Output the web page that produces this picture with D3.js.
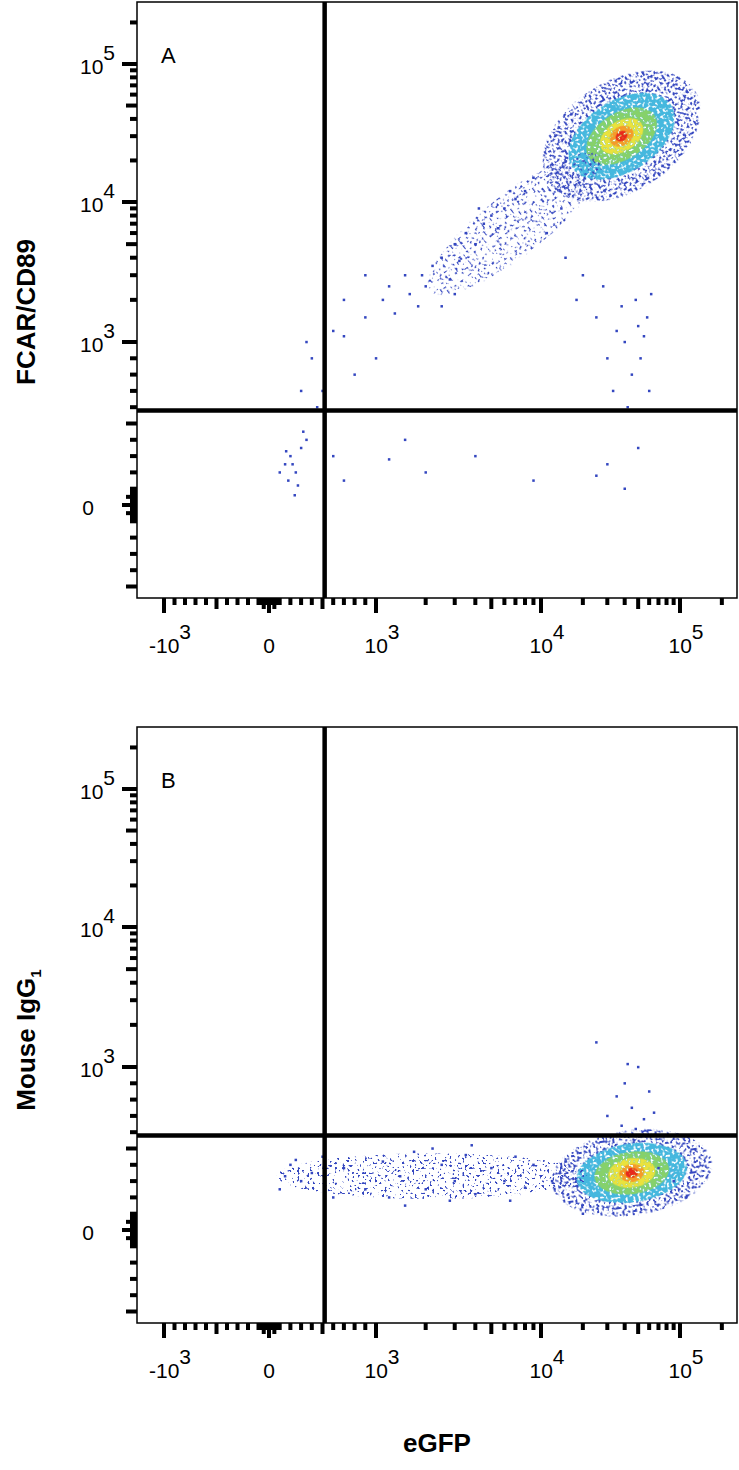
<!DOCTYPE html>
<html><head><meta charset="utf-8">
<script src="https://cdn.jsdelivr.net/npm/d3@7"></script>
<style>body{margin:0;background:#fff}svg{display:block}text{font-family:"Liberation Sans",Arial,sans-serif}</style>
</head><body>
<script>
// ---- data ----
const majorTicks = [-1000, 0, 1000, 10000, 100000];
const xTickLabels = [["-10","3"],["0",""],["10","3"],["10","4"],["10","5"]];
const yTickValues = [0, 1000, 10000, 100000];
const yTickLabels = [["0",""],["10","3"],["10","4"],["10","5"]];
const gateX = 520, gateY = 580;
const levelColors = ["#3447c0","#44b8de","#86d16a","#eae23c","#f59a2a","#e62a1e"];
// blobs: centre [x,y] in data units, radii per level in transformed (decade) units, rotation deg
const blobsA = [
 {c:[38000,30000], rot:-32, r:[[0.62,0.40],[0.42,0.26],[0.28,0.17],[0.17,0.11],[0.09,0.07],[0.045,0.035]]},
 {c:[7000,7000], rot:-38, r:[[0.75,0.22]]}
];
const blobsB = [
 {c:[45000,350], rot:-8, r:[[0.58,0.26],[0.40,0.18],[0.27,0.13],[0.17,0.09],[0.09,0.055],[0.045,0.03]]},
 {c:[2200,330], rot:0, r:[[1.0,0.14]]}
];
const pointsA = [[600,1200],[700,2000],[900,1500],[1200,2500],[1500,3000],[2000,2500],[2500,4000],[3000,5000],[3500,6000],[4000,5000],[5000,8000],[6000,9000],[7000,10500],[8000,12000],[1000,900],[800,800],[1800,1800],[2200,3500],[2800,2800],[4500,7000],[5500,6500],[6500,12000],[9000,15000],[3200,3800],[1300,1600],[1600,2200],[700,1100],[500,700],[400,900],[300,700],[350,1000],[450,600],[900,3000],[1100,2000],[2500,1800],[1900,3000],[4200,9000],[3000,2200],[11000,6000],[14000,9000],[150,250],[200,300],[250,200],[180,150],[300,350],[350,400],[220,250],[100,200],[270,120],[320,450],[160,330],[240,60],[700,150],[1200,280],[2000,200],[4000,300],[9000,150],[30000,250],[40000,100],[25000,180],[50000,350],[1500,400],[600,300],[30000,900],[40000,1000],[50000,1300],[45000,800],[35000,1200],[55000,1100],[60000,700],[42000,600],[25000,1500],[38000,1800],[48000,2000],[52000,900],[33000,700],[58000,1500],[28000,2500],[62000,2200],[20000,3000],[18000,2000],[15000,4000]];
const pointsB = [[100,250],[150,330],[200,400],[300,300],[500,450],[700,380],[900,250],[1100,420],[1400,330],[1700,480],[2000,250],[2500,400],[3000,300],[3500,460],[4000,220],[5000,380],[6000,300],[7000,450],[8000,260],[9000,400],[1200,200],[2200,500],[2800,180],[600,200],[400,350],[250,430],[1500,150],[3800,520],[6500,180],[30000,700],[35000,820],[40000,900],[45000,750],[50000,1000],[55000,680],[60000,850],[38000,640],[25000,1500],[48000,620],[42000,1050],[65000,720],[70000,380],[90000,300],[110000,200],[20000,100],[15000,420],[12000,300]];

// ---- transforms ----
const tf = v => v <= 1000 ? 2 + v/1000 : Math.log10(v);
const W = 739, H = 1470;
const svg = d3.select("body").append("svg").attr("width",W).attr("height",H);
const defs = svg.append("defs");
function grain(id, freq, k, b){
  const f = defs.append("filter").attr("id",id).attr("x","-20%").attr("y","-20%").attr("width","140%").attr("height","140%");
  f.append("feTurbulence").attr("type","fractalNoise").attr("baseFrequency",freq).attr("numOctaves",1).attr("seed",3).attr("result","n");
  f.append("feColorMatrix").attr("in","n").attr("type","matrix").attr("values",`0 0 0 0 0 0 0 0 0 0 0 0 0 0 0 ${k} 0 0 0 ${b}`).attr("result","m");
  f.append("feComposite").attr("in","SourceGraphic").attr("in2","m").attr("operator","in");
}
grain("dense",0.4,14,-5.2);
grain("sparse",0.4,14,-7.4);
grain("vsparse",0.4,14,-8.4);

function panel(top, blobs, pts, letter){
  const L=137, R=737, T=top, B=top+596;
  const x = d3.scaleLinear().domain(majorTicks.map(tf)).range([164,269,376,541,680]);
  const y = d3.scaleLinear().domain(yTickValues.map(tf)).range([503,340,200,62].map(d=>d+top));
  const g = svg.append("g");
  const clip = "c"+letter;
  defs.append("clipPath").attr("id",clip).append("rect").attr("x",L).attr("y",T).attr("width",R-L).attr("height",B-T);
  const pg = g.append("g").attr("clip-path",`url(#${clip})`);
  blobs.forEach((bl,bi)=>{
    const cx = x(tf(bl.c[0])), cy = y(tf(bl.c[1]));
    const t0x=tf(bl.c[0]), t0y=tf(bl.c[1]);
    bl.r.forEach((r,i)=>{
      const rx = x(t0x+r[0])-cx, ry = cy - y(t0y+r[1]);
      pg.append("ellipse").attr("cx",cx).attr("cy",cy).attr("rx",rx).attr("ry",ry)
        .attr("transform",`rotate(${bl.rot},${cx},${cy})`)
        .attr("fill",levelColors[i])
        .attr("filter", bl.r.length===1 ? "url(#vsparse)" : (i===0?"url(#sparse)":"url(#dense)"));
    });
  });
  pg.selectAll("rect.p").data(pts).join("rect").attr("class","p")
    .attr("x",d=>x(tf(d[0]))-1.2).attr("y",d=>y(tf(d[1]))-1.2).attr("width",2.5).attr("height",2.5).attr("fill",levelColors[0]);
  // gates
  g.append("line").attr("x1",x(tf(gateX))).attr("x2",x(tf(gateX))).attr("y1",T).attr("y2",B).attr("stroke","#000").attr("stroke-width",4.5);
  g.append("line").attr("x1",L).attr("x2",R).attr("y1",y(tf(gateY))).attr("y2",y(tf(gateY))).attr("stroke","#000").attr("stroke-width",4.5);
  g.append("rect").attr("x",L).attr("y",T).attr("width",R-L).attr("height",B-T).attr("fill","none").attr("stroke","#000").attr("stroke-width",1.5);
  // ticks
  const ticks=[];
  [-1,1].forEach(s=>{
    [10,100,1000,10000].forEach(dec=>{
      for(let m=1;m<=9;m++){ const v=s*m*dec; if(Math.abs(v)>100000) continue;
        ticks.push({v, len: (m===1 && dec>=1000)?15:(m===5?11:7)}); }
    });
  });
  ticks.push({v:0,len:15}); ticks.push({v:100000,len:15}); ticks.push({v:200000,len:7});
  const xt = ticks.filter(d=>d.v>=-1800 && x(tf(d.v))<=R);
  g.selectAll("rect.xt").data(xt).join("rect").attr("x",d=>x(tf(d.v))-2).attr("y",B).attr("width",4).attr("height",d=>d.len).attr("fill","#000");
  const yt = ticks.filter(d=>{const p=y(tf(d.v)); return p<=B && p>=T;});
  g.selectAll("rect.yt").data(yt).join("rect").attr("x",d=>L-d.len).attr("y",d=>y(tf(d.v))-2).attr("width",d=>d.len).attr("height",4).attr("fill","#000");
  // labels
  majorTicks.forEach((v,i)=>{
    const tx = g.append("text").attr("x",x(tf(v))+(xTickLabels[i][1]?6:0)).attr("y",B+55).attr("text-anchor","middle").attr("font-size",21);
    tx.append("tspan").text(xTickLabels[i][0]);
    if(xTickLabels[i][1]) tx.append("tspan").attr("dy",-14).text(xTickLabels[i][1]);
  });
  yTickValues.forEach((v,i)=>{
    const tx = g.append("text").attr("y",y(tf(v))+10).attr("font-size",21);
    if(yTickLabels[i][1]){ tx.attr("x",80); tx.append("tspan").text(yTickLabels[i][0]); tx.append("tspan").attr("dy",-14).text(yTickLabels[i][1]); }
    else { tx.attr("x",88).attr("text-anchor","middle").text(yTickLabels[i][0]); }
  });
  g.append("text").attr("x",161).attr("y",T+61).attr("font-size",22).text(letter);
}
panel(2, blobsA, pointsA, "A");
panel(727, blobsB, pointsB, "B");

svg.append("text").attr("transform","translate(35,312) rotate(-90)").attr("text-anchor","middle").attr("font-size",26).attr("font-weight","bold").text("FCAR/CD89");
const yl = svg.append("text").attr("transform","translate(35,1040) rotate(-90)").attr("text-anchor","middle").attr("font-size",26).attr("font-weight","bold");
yl.append("tspan").text("Mouse IgG");
yl.append("tspan").attr("dy",6).attr("font-size",15).text("1");
svg.append("text").attr("x",437).attr("y",1452).attr("text-anchor","middle").attr("font-size",26).attr("font-weight","bold").text("eGFP");
</script>
</body></html>
